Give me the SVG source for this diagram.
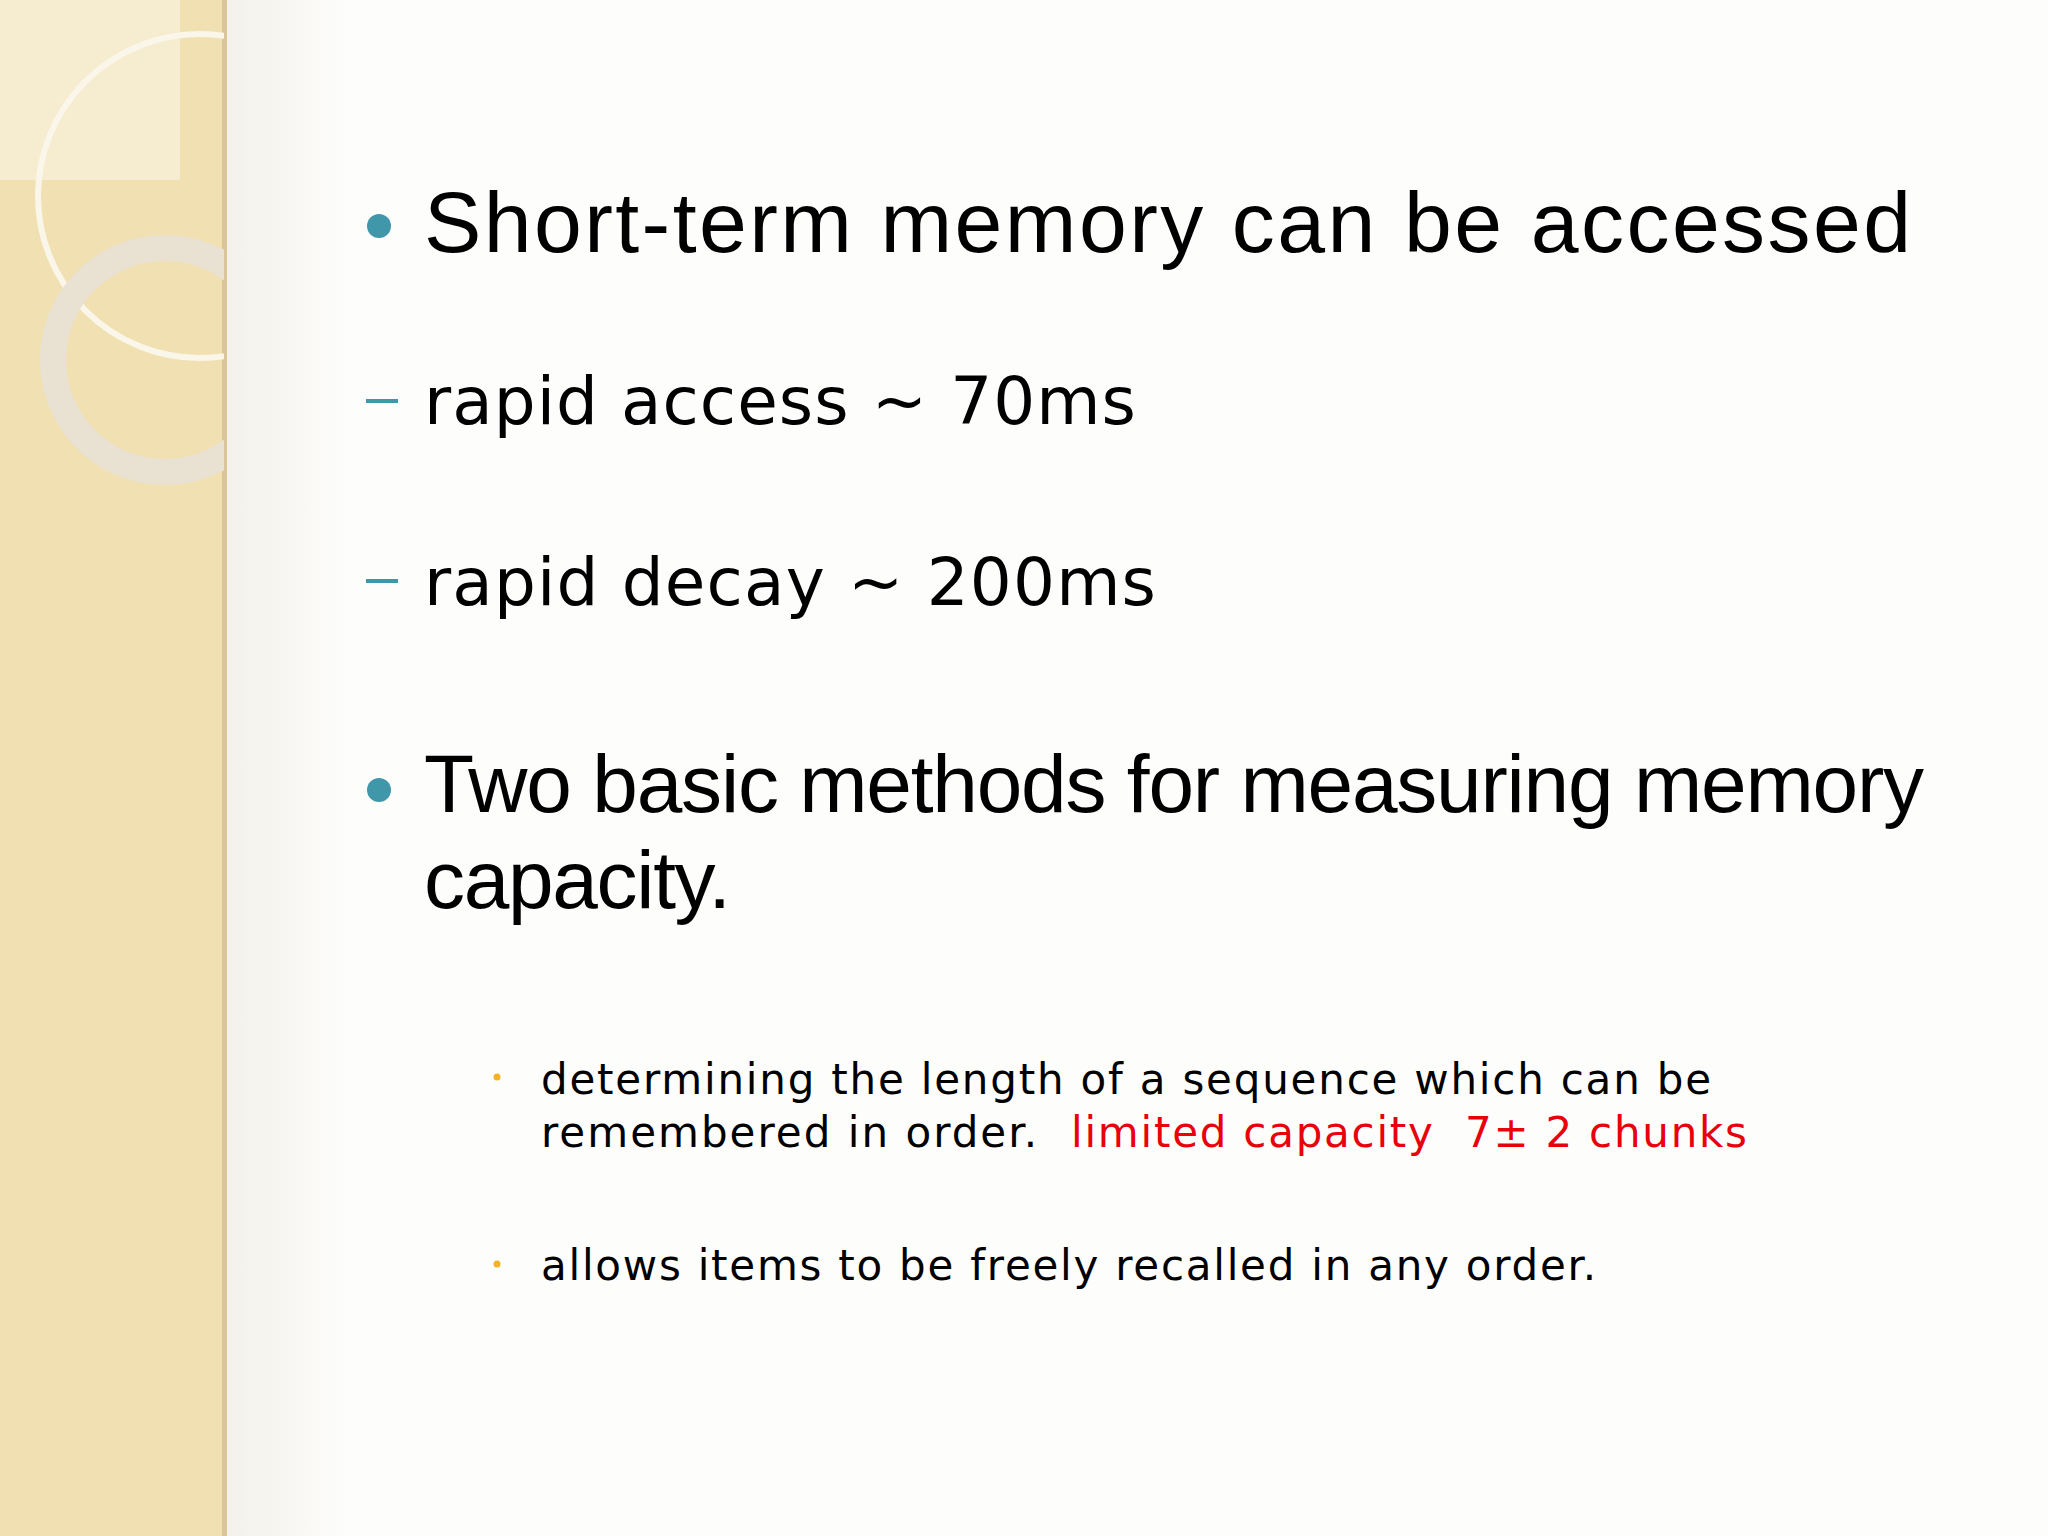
<svg xmlns="http://www.w3.org/2000/svg" width="2048" height="1536" viewBox="0 0 2048 1536">
<defs>
<style>
.h{font-family:"Liberation Sans",Arial,sans-serif;font-size:86px;fill:#000}
.h2{font-family:"Liberation Sans",Arial,sans-serif;font-size:82px;fill:#000}
.s{font-family:"DejaVu Sans",Verdana,sans-serif;font-size:66px;fill:#000}
.t{font-family:"DejaVu Sans",Verdana,sans-serif;font-size:42px;fill:#000}
.r{fill:#e8000b}
</style>
<linearGradient id="sh" x1="0" x2="1"><stop offset="0" stop-color="#e9e4d8"/><stop offset="1" stop-color="#fdfdfc"/></linearGradient>
<clipPath id="cp"><rect width="224" height="1536"/></clipPath>
</defs>
<rect width="2048" height="1536" fill="#fdfdfc"/>
<rect x="226" width="124" height="1536" fill="url(#sh)" opacity="0.5"/>
<rect width="226" height="1536" fill="#f1e0b2"/>
<rect x="222" width="5" height="1536" fill="#d9c596"/>
<g clip-path="url(#cp)">
<rect width="180" height="180" fill="#f6ecd0"/>
<circle cx="200" cy="196" r="162" fill="none" stroke="#fbf6ea" stroke-width="6"/>
<circle cx="165" cy="360" r="112" fill="none" stroke="#e9e2d2" stroke-width="26"/>
</g>
<g id="b1"><circle cx="379" cy="226" r="12" fill="#4197aa"/><text class="h" x="424" y="252" textLength="1487">Short-term memory can be accessed</text></g>
<g id="s1"><rect x="366" y="399" width="32" height="4" fill="#4197aa"/><text class="s" x="424" y="424" textLength="712">rapid access ~ 70ms</text></g>
<g id="s2"><rect x="366" y="579" width="32" height="4" fill="#4197aa"/><text class="s" x="424" y="605" textLength="732">rapid decay ~ 200ms</text></g>
<g id="b2"><circle cx="379" cy="790" r="12" fill="#4197aa"/><text class="h2" x="424" y="812" textLength="1500">Two basic methods for measuring memory</text><text class="h2" x="424" y="908" textLength="307">capacity.</text></g>
<g id="t1"><circle cx="497" cy="1077" r="3.5" fill="#f5b324"/><text class="t" x="541" y="1094" textLength="1170">determining the length of a sequence which can be</text><text class="t" x="541" y="1147" textLength="496">remembered in order.</text><text class="t r" x="1071" y="1147" textLength="676" xml:space="preserve">limited capacity  7± 2 chunks</text></g>
<g id="t2"><circle cx="497" cy="1264" r="3.5" fill="#f5b324"/><text class="t" x="541" y="1280" textLength="1055">allows items to be freely recalled in any order.</text></g>
</svg>
